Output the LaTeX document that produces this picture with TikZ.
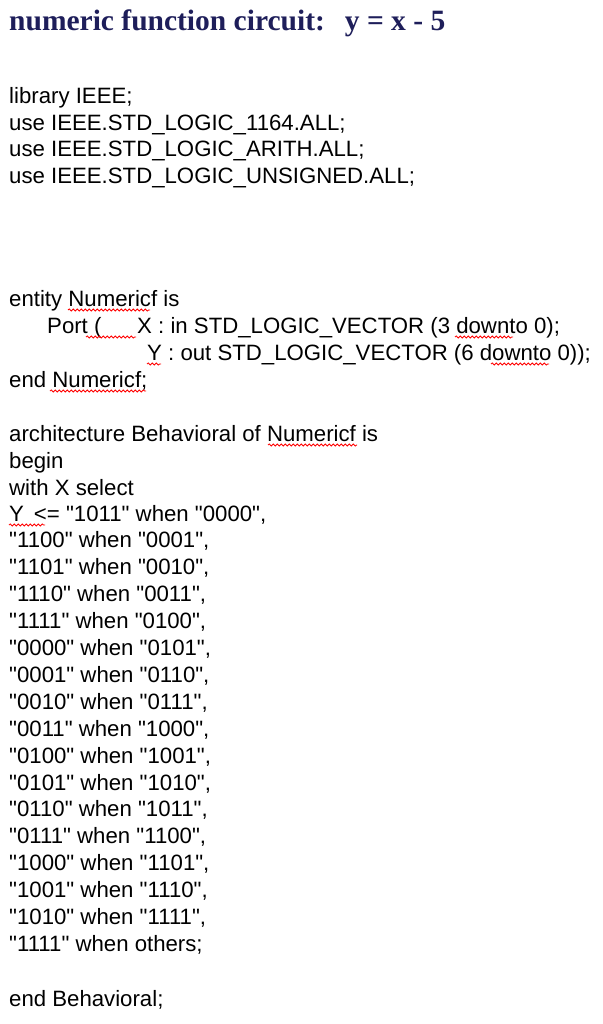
\documentclass[tikz,border=0pt]{standalone}
\usepackage{fontspec}
\setmainfont{Liberation Sans}
\newfontfamily\titlefont{Liberation Serif}
\usetikzlibrary{decorations.pathmorphing}
\definecolor{navy}{RGB}{30,30,90}
\newcommand\qq[1]{\textquotedbl#1\textquotedbl}
\begin{document}
\begin{tikzpicture}[x=1pt,y=-1pt,
  code/.style={anchor=base west,inner sep=0pt,font=\fontsize{22.2}{24}\selectfont},
  squig/.style={red,line width=0.8pt,decorate,decoration={snake,amplitude=1.1pt,segment length=4pt}}]
\useasboundingbox (0,0) rectangle (602,1024);
\node[anchor=base west,inner sep=0pt,text=navy,font=\titlefont\bfseries\fontsize{29.5}{31}\selectfont] (title) at (9,31) {numeric function circuit:\hspace{20pt}y = x - 5};
\node[code] (l1) at (9,104) {library IEEE;};
\node[code] (l2) at (9,131) {use IEEE.STD\_LOGIC\_1164.ALL;};
\node[code] (l3) at (9,157) {use IEEE.STD\_LOGIC\_ARITH.ALL;};
\node[code] (l4) at (9,184) {use IEEE.STD\_LOGIC\_UNSIGNED.ALL;};
\node[code] (e1) at (9,306) {entity Numericf is};
\node[code] (e2) at (47,333) {Port (};
\node[code] (e2b) at (137,333) {X : in STD\_LOGIC\_VECTOR (3 downto 0);};
\node[code] (e3) at (147,360) {Y : out STD\_LOGIC\_VECTOR (6 downto 0));};
\node[code] (e4) at (9,387) {end Numericf;};
\node[code] (a1) at (9,441) {architecture Behavioral of Numericf is};
\node[code] (a2) at (9,468) {begin};
\node[code] (a3) at (9,495) {with X select};
\node[code] (w0) at (9,521) {Y\hspace{10pt}<= \qq{1011} when \qq{0000},};
\foreach \i/\a/\b in {1/1100/0001,2/1101/0010,3/1110/0011,4/1111/0100,5/0000/0101,6/0001/0110,
  7/0010/0111,8/0011/1000,9/0100/1001,10/0101/1010,11/0110/1011,12/0111/1100,13/1000/1101,
  14/1001/1110,15/1010/1111}
  \node[code] (w\i) at (9,521+26.9*\i) {\qq{\a} when \qq{\b},};
\node[code] (w16) at (9,521+26.9*16) {\qq{1111} when others;};
\node[code] (end) at (9,1006) {end Behavioral;};
% spell-check squiggles
\draw[squig] (68,310) -- (150,310);
\draw[squig] (86,337) -- (136,337);
\draw[squig] (455,337) -- (513,337);
\draw[squig] (147,364) -- (161,364);
\draw[squig] (491,364) -- (549,364);
\draw[squig] (50,391) -- (146,391);
\draw[squig] (268,445) -- (357,445);
\draw[squig] (9,525) -- (45,525);
\end{tikzpicture}
\end{document}
